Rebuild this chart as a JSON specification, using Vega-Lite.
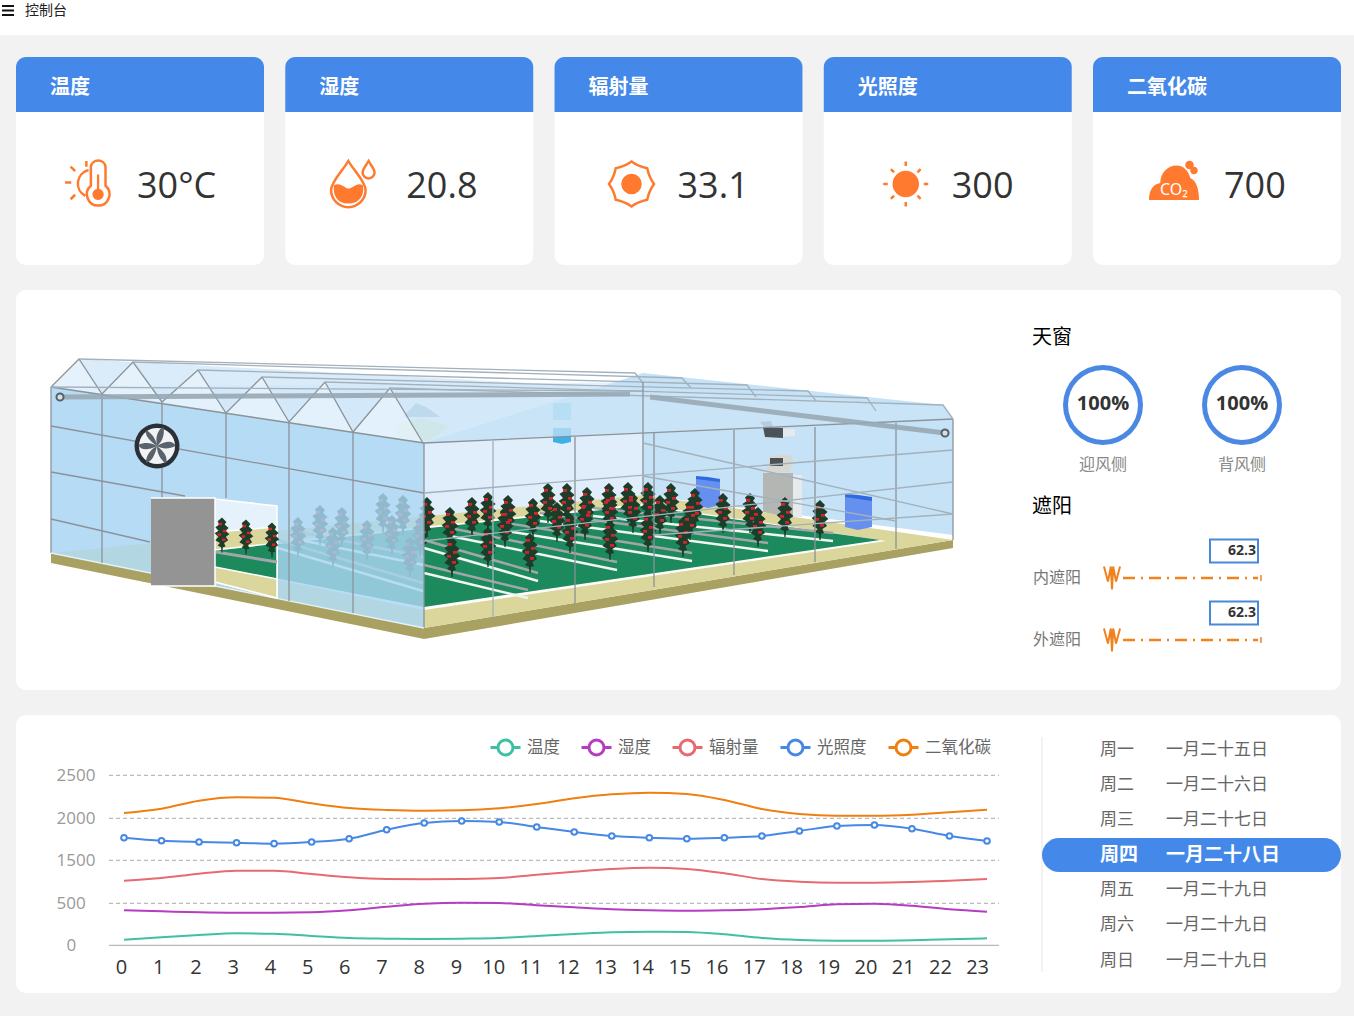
{
"$schema":"https://vega.github.io/schema/vega-lite/v6.json",
"background":"#f2f2f2",
"padding":{"left":-1,"top":-1,"right":0,"bottom":23},
"config":{"view":{"stroke":null},"axis":{"disable":true},"text":{"font":"Noto Sans CJK SC"}},
"spacing":21,
"vconcat":[
{"width":1354,"height":36,"view":{"fill":"white","stroke":null},"data":{"values":[{"label":"控制台"}]},"layer":[
 {"mark":{"type":"point","shape":"M-1,-.75H1M-1,0H1M-1,.75H1","size":144,"filled":false,"stroke":"#111","strokeWidth":2,"strokeJoin":"round","opacity":1},"encoding":{"x":{"datum":8,"scale":{"domain":[0,1354],"range":[0,1354],"nice":false,"zero":false}},"y":{"datum":11.5,"scale":{"domain":[0,36],"range":[0,36],"nice":false,"zero":false}}}},
 {"mark":{"type":"text","align":"left","fontSize":14,"color":"#222"},"encoding":{"x":{"datum":25},"y":{"datum":12},"text":{"field":"label"}}}
]},
{"hconcat":[
 {"width":1,"height":1,"data":{"values":[{}]},"mark":{"type":"rule","opacity":0},"encoding":{}},
 {"spacing":25,"vconcat":[
  {"spacing":21.25,"hconcat":[
   {"width":248,"height":208,"view":{"fill":"white","cornerRadius":10,"stroke":null},"data":{"values":[{"name":"温度","value":"30°C"}]},"layer":[
    {"mark":{"type":"rect","color":"#4489ea","cornerRadiusTopLeft":10,"cornerRadiusTopRight":10},"encoding":{"x":{"datum":0,"scale":{"domain":[0,248],"range":[0,248],"nice":false,"zero":false}},"x2":{"datum":248},"y":{"datum":0,"scale":{"domain":[0,208],"range":[0,208],"nice":false,"zero":false}},"y2":{"datum":55}}},
    {"mark":{"type":"text","align":"left","fontSize":20,"fontWeight":"bold","color":"white"},"encoding":{"x":{"datum":34},"y":{"datum":31},"text":{"field":"name"}}},
    {"mark":{"type":"point","shape":"M.15,.1V-.75A.33,.33 0 0 1 .8,-.75V.1A.5,.5 0 1 1 .15,.1ZM.05,-.6A.62,.62 0 0 0 -.1,.55M-1,-.05H-.72M-.75,-.75L-.55,-.55M-.75,.7L-.55,.5M-.05,-1V-.75","size":2025,"filled":false,"stroke":"#ff7a2f","strokeWidth":2.5,"opacity":1},"encoding":{"x":{"datum":71.5},"y":{"datum":126.5}}},
    {"mark":{"type":"point","shape":"M.72,.48A.25,.25 0 1 1 .22,.48A.25,.25 0 1 1 .72,.48ZM.42,-.4H.52V.3H.42Z","size":2025,"filled":true,"color":"#ff7a2f","opacity":1},"encoding":{"x":{"datum":71.5},"y":{"datum":126.5}}},
    {"mark":{"type":"text","align":"left","fontSize":36,"font":"Open Sans","color":"#333"},"encoding":{"x":{"datum":121},"y":{"datum":130},"text":{"field":"value"}}}
   ]},
   {"width":248,"height":208,"view":{"fill":"white","cornerRadius":10,"stroke":null},"data":{"values":[{"name":"湿度","value":"20.8"}]},"layer":[
    {"mark":{"type":"rect","color":"#4489ea","cornerRadiusTopLeft":10,"cornerRadiusTopRight":10},"encoding":{"x":{"datum":0,"scale":{"domain":[0,248],"range":[0,248],"nice":false,"zero":false}},"x2":{"datum":248},"y":{"datum":0,"scale":{"domain":[0,208],"range":[0,208],"nice":false,"zero":false}},"y2":{"datum":55}}},
    {"mark":{"type":"text","align":"left","fontSize":20,"fontWeight":"bold","color":"white"},"encoding":{"x":{"datum":34},"y":{"datum":31},"text":{"field":"name"}}},
    {"mark":{"type":"point","shape":"M-.17,-1C-.4,-.6 -.92,-.1 -.92,.26A.75,.75 0 0 0 .58,.26C.58,-.1 .06,-.6 -.17,-1ZM.71,-1C.6,-.8 .45,-.65 .45,-.5A.26,.26 0 0 0 .97,-.5C.97,-.65 .82,-.8 .71,-1Z","size":2116,"filled":false,"stroke":"#ff7a2f","strokeWidth":2.5,"opacity":1},"encoding":{"x":{"datum":67},"y":{"datum":127}}},
    {"mark":{"type":"point","shape":"M-.8,.05C-.5,-.1 -.3,.2 -.17,.2C0,.2 .2,-.1 .46,.05C.55,.5 .3,.85 -.17,.85C-.65,.85 -.85,.5 -.8,.05Z","size":2116,"filled":true,"color":"#ff7a2f","opacity":1},"encoding":{"x":{"datum":67},"y":{"datum":127}}},
    {"mark":{"type":"text","align":"left","fontSize":36,"font":"Open Sans","color":"#333"},"encoding":{"x":{"datum":121},"y":{"datum":130},"text":{"field":"value"}}}
   ]},
   {"width":248,"height":208,"view":{"fill":"white","cornerRadius":10,"stroke":null},"data":{"values":[{"name":"辐射量","value":"33.1"}]},"layer":[
    {"mark":{"type":"rect","color":"#4489ea","cornerRadiusTopLeft":10,"cornerRadiusTopRight":10},"encoding":{"x":{"datum":0,"scale":{"domain":[0,248],"range":[0,248],"nice":false,"zero":false}},"x2":{"datum":248},"y":{"datum":0,"scale":{"domain":[0,208],"range":[0,208],"nice":false,"zero":false}},"y2":{"datum":55}}},
    {"mark":{"type":"text","align":"left","fontSize":20,"fontWeight":"bold","color":"white"},"encoding":{"x":{"datum":34},"y":{"datum":31},"text":{"field":"name"}}},
    {"mark":{"type":"point","shape":"M0,-1Q.3,-.78 .7,-.7Q.78,-.3 1,0Q.78,.3 .7,.7Q.3,.78 0,1Q-.3,.78 -.7,.7Q-.78,.3 -1,0Q-.78,-.3 -.7,-.7Q-.3,-.78 0,-1Z","size":2025,"filled":false,"stroke":"#ff7a2f","strokeWidth":2.5,"opacity":1},"encoding":{"x":{"datum":77},"y":{"datum":127}}},
    {"mark":{"type":"point","shape":"circle","size":420,"filled":true,"color":"#ff7a2f","opacity":1},"encoding":{"x":{"datum":77},"y":{"datum":127}}},
    {"mark":{"type":"text","align":"left","fontSize":36,"font":"Open Sans","color":"#333"},"encoding":{"x":{"datum":123},"y":{"datum":130},"text":{"field":"value"}}}
   ]},
   {"width":248,"height":208,"view":{"fill":"white","cornerRadius":10,"stroke":null},"data":{"values":[{"name":"光照度","value":"300"}]},"layer":[
    {"mark":{"type":"rect","color":"#4489ea","cornerRadiusTopLeft":10,"cornerRadiusTopRight":10},"encoding":{"x":{"datum":0,"scale":{"domain":[0,248],"range":[0,248],"nice":false,"zero":false}},"x2":{"datum":248},"y":{"datum":0,"scale":{"domain":[0,208],"range":[0,208],"nice":false,"zero":false}},"y2":{"datum":55}}},
    {"mark":{"type":"text","align":"left","fontSize":20,"fontWeight":"bold","color":"white"},"encoding":{"x":{"datum":34},"y":{"datum":31},"text":{"field":"name"}}},
    {"mark":{"type":"point","shape":"M0,-1V-.8M0,1V.8M-1,0H-.8M1,0H.8M.66,-.66L.52,-.52M.66,.66L.52,.52M-.66,-.66L-.52,-.52M-.66,.66L-.52,.52","size":2025,"filled":false,"stroke":"#ff7a2f","strokeWidth":2.5,"opacity":1},"encoding":{"x":{"datum":82},"y":{"datum":127}}},
    {"mark":{"type":"point","shape":"circle","size":700,"filled":true,"color":"#ff7a2f","opacity":1},"encoding":{"x":{"datum":82},"y":{"datum":127}}},
    {"mark":{"type":"text","align":"left","fontSize":36,"font":"Open Sans","color":"#333"},"encoding":{"x":{"datum":128},"y":{"datum":130},"text":{"field":"value"}}}
   ]},
   {"width":248,"height":208,"view":{"fill":"white","cornerRadius":10,"stroke":null},"data":{"values":[{"name":"二氧化碳","value":"700","icon":"CO₂"}]},"layer":[
    {"mark":{"type":"rect","color":"#4489ea","cornerRadiusTopLeft":10,"cornerRadiusTopRight":10},"encoding":{"x":{"datum":0,"scale":{"domain":[0,248],"range":[0,248],"nice":false,"zero":false}},"x2":{"datum":248},"y":{"datum":0,"scale":{"domain":[0,208],"range":[0,208],"nice":false,"zero":false}},"y2":{"datum":55}}},
    {"mark":{"type":"text","align":"left","fontSize":20,"fontWeight":"bold","color":"white"},"encoding":{"x":{"datum":34},"y":{"datum":31},"text":{"field":"name"}}},
    {"mark":{"type":"point","shape":"M-1,.68C-1,.3 -.85,.05 -.55,0C-.55,-.4 -.25,-.7 .1,-.7C.4,-.7 .6,-.45 .65,-.2C.9,-.1 1,.25 1,.68ZM.45,-.72A.17,.17 0 1 1 .79,-.72A.17,.17 0 1 1 .45,-.72ZM.65,-.5A.15,.15 0 1 1 .95,-.5A.15,.15 0 1 1 .65,-.5Z","size":2500,"filled":true,"color":"#ff7a2f","opacity":1},"encoding":{"x":{"datum":81},"y":{"datum":126}}},
    {"mark":{"type":"text","fontSize":16,"font":"Noto Sans","color":"white"},"encoding":{"x":{"datum":81},"y":{"datum":133},"text":{"field":"icon"}}},
    {"mark":{"type":"text","align":"left","fontSize":36,"font":"Open Sans","color":"#333"},"encoding":{"x":{"datum":131},"y":{"datum":130},"text":{"field":"value"}}}
   ]}
  ]},
  {"width":1325,"height":400,"view":{"fill":"white","cornerRadius":10,"stroke":null},
   "resolve":{"scale":{"x":"independent","y":"independent"}},
   "layer":[
   {"layer":[
    {"data":{"values":[
      {"shape":"behind","part":"behind","x":[51,643,643,51],"y":[387,382,495,553]},
      {"shape":"backl","part":"backl","x":[424,643,643,424],"y":[443,433,495,520]},
      {"shape":"backr","part":"backr","x":[643,953,953,643],"y":[433,419,535,495]},
      {"shape":"roofr","part":"backr","x":[424,643,943,953],"y":[443,373,405,419]},
      {"shape":"base","part":"base","x":[51,51,424,953,953,424],"y":[553,563,639,548,540,628]},
      {"shape":"floor","part":"floor","x":[51,643,953,424],"y":[553,495,540,628]},
      {"shape":"bedw","part":"bedw","x":[158,640,886,424],"y":[555,504,541,610]},
      {"shape":"bed","part":"bed","x":[162,640,880,424],"y":[556,506,540,607]},
      {"shape":"glow","part":"glow","x":[393,420,450,430,400],"y":[426,418,426,440,438]},
      {"shape":"lamp","part":"lamp","x":[402,412,416,428,440],"y":[417,408,403,408,417]},
      {"shape":"lighta","part":"lighta","x":[553,553,571,571],"y":[403,420,420,403]},
      {"shape":"lightb","part":"lightb","x":[553,553,562,571,571],"y":[428,442,444,442,428]},
      {"shape":"bucket1","part":"bucket","x":[696,696,708,720,720],"y":[477,505,508,505,480]},
      {"shape":"top1","part":"buckett","x":[696,708,720,720,696],"y":[476,477,479,482,479]},
      {"shape":"bucket2","part":"bucket","x":[845,845,858,872,872],"y":[495,527,530,527,498]},
      {"shape":"top2","part":"buckett","x":[845,858,872,872,845],"y":[494,495,497,501,497]},
      {"shape":"side","part":"cwhite","x":[793,802,802,793],"y":[475,475,517,517]},
      {"shape":"body","part":"cbody","x":[763,793,793,763],"y":[473,473,518,512]},
      {"shape":"head","part":"chead","x":[767,770,790,793,790,767],"y":[468,456,455,460,472,473]},
      {"shape":"screen","part":"cdark","x":[770,783,783,770],"y":[458,458,466,466]},
      {"shape":"cam","part":"cdark","x":[763,783,783,765],"y":[427,428,438,437]},
      {"shape":"camw","part":"cwhite","x":[783,795,795,783],"y":[429,429,436,437]},
      {"shape":"camb","part":"cbrack","x":[760,771,773,764],"y":[422,421,427,427]}
     ]},
     "transform":[{"flatten":["x","y"]},{"window":[{"op":"row_number","as":"i"}],"groupby":["shape"]}],
     "mark":{"type":"line","strokeWidth":0},
     "encoding":{
      "x":{"field":"x","type":"quantitative","scale":{"domain":[16,1341],"range":[0,1325],"nice":false,"zero":false}},
      "y":{"field":"y","type":"quantitative","scale":{"domain":[290,690],"range":[0,400],"nice":false,"zero":false}},
      "detail":{"field":"shape"},
      "order":{"field":"i","type":"quantitative"},
      "fill":{"field":"part","type":"nominal","legend":null,"scale":{
       "domain":["behind","backl","backr","base","floor","bedw","bed","glow","lamp","lighta","lightb","bucket","buckett","cwhite","cbody","chead","cdark","cbrack","wall","roof","gable","sky","door"],
       "range":["#e6f2fb","#dfeefa","#c5e2f7","#a9a162","#dbd69b","#ffffff","#1c8a5c","#dceec6","#9dbcd2","#84d2f5","#3fb0e6","#6690f0","#2f6be0","#e6eaec","#b4b6b4","#d8d8d0","#4c5358","#7c98a6","#a9d5f3","#cbe4f6","#edf7fd","#e6f2fb","#949494"]}}
     }},
    {"data":{"values":[
      {"shape":"w1","part":"rail","x":[593,833],"y":[516,541]},
      {"shape":"w2","part":"rail","x":[540,768],"y":[521,551]},
      {"shape":"w3","part":"rail","x":[500,692],"y":[530,561]},
      {"shape":"w4","part":"rail","x":[450,617],"y":[536,570]},
      {"shape":"w5","part":"rail","x":[424,538],"y":[548,581]},
      {"shape":"w6","part":"rail","x":[424,528],"y":[573,598]},
      {"shape":"w7","part":"rail","x":[278,423],"y":[548,591]},
      {"shape":"w8","part":"rail","x":[290,424],"y":[538,565]},
      {"shape":"g1","part":"bench","x":[593,833],"y":[508,533]},
      {"shape":"g2","part":"bench","x":[540,768],"y":[513,543]},
      {"shape":"g3","part":"bench","x":[500,692],"y":[522,553]},
      {"shape":"g4","part":"bench","x":[450,617],"y":[528,562]},
      {"shape":"g5","part":"bench","x":[424,538],"y":[540,573]},
      {"shape":"g6","part":"bench","x":[424,528],"y":[565,590]},
      {"shape":"g7","part":"bench","x":[278,423],"y":[540,583]},
      {"shape":"g8","part":"bench","x":[290,424],"y":[530,557]}
     ]},
     "transform":[{"flatten":["x","y"]}],
     "mark":{"type":"line","strokeWidth":2.5},
     "encoding":{
      "x":{"field":"x","type":"quantitative"},
      "y":{"field":"y","type":"quantitative"},
      "detail":{"field":"shape"},
      "color":{"field":"part","type":"nominal","legend":null,"scale":{"domain":["rail","bench","strong","light","edge"],"range":["#f2f4f4","#a2a6a9","#8b9298","#a3b1bc","#e4f0f8"]}}
     }},
    {"data":{"name":"plants","values":[
      {"x":548,"y":503},{"x":567,"y":503},{"x":587,"y":507},{"x":609,"y":503},{"x":628,"y":502},{"x":648,"y":502},{"x":671,"y":503},{"x":695,"y":508},{"x":723,"y":513},{"x":750,"y":513},{"x":785,"y":517},{"x":820,"y":520},{"x":633,"y":513},{"x":660,"y":515},{"x":690,"y":520},{"x":758,"y":527},{"x":610,"y":513},{"x":585,"y":520},{"x":557,"y":522},{"x":533,"y":518},{"x":508,"y":515},{"x":570,"y":533},{"x":610,"y":540},{"x":648,"y":532},{"x":683,"y":537},{"x":530,"y":553},{"x":427,"y":517},{"x":450,"y":527},{"x":472,"y":517},{"x":488,"y":512},{"x":505,"y":527},{"x":452,"y":557},{"x":488,"y":547},{"x":298,"y":537},{"x":320,"y":525},{"x":342,"y":527},{"x":383,"y":513},{"x":403,"y":515},{"x":367,"y":540},{"x":392,"y":535},{"x":333,"y":547},{"x":410,"y":557},{"x":420,"y":537}
     ]},
     "mark":{"type":"point","shape":"M0,-1L.25,-.75L.15,-.6L.38,-.4L.2,-.25L.42,-.05L.22,.1L.35,.3L.12,.45L.2,.65L.05,.7L.03,1L-.03,1L-.05,.7L-.25,.6L-.12,.45L-.38,.3L-.2,.1L-.42,-.1L-.2,-.25L-.38,-.45L-.15,-.6L-.25,-.78Z","size":1600,"filled":true,"color":"#1b3d2a","opacity":1},
     "encoding":{"x":{"field":"x","type":"quantitative"},"y":{"field":"y","type":"quantitative"}}},
    {"data":{"name":"plants"},
     "mark":{"type":"point","shape":"M-.2,-.7h.2v.14h-.2zM.05,-.3h.2v.14h-.2zM-.25,-.1h.2v.14h-.2zM0,.2h.2v.14h-.2z","size":1600,"filled":true,"color":"#d1242c","opacity":1},
     "encoding":{"x":{"field":"x","type":"quantitative"},"y":{"field":"y","type":"quantitative"}}},
    {"data":{"values":[
      {"shape":"wall","part":"wall","x":[51,424,424,51],"y":[387,443,628,553]},
      {"shape":"roof","part":"roof","x":[51,79,943,953,424],"y":[387,359,405,419,443]},
      {"shape":"t1","part":"gable","x":[51,79,102],"y":[387,359,394]},
      {"shape":"t2","part":"gable","x":[102,133,162],"y":[394,362,402]},
      {"shape":"t3","part":"gable","x":[162,198,226],"y":[402,370,413]},
      {"shape":"t4","part":"gable","x":[226,262,289],"y":[413,377,422]},
      {"shape":"t5","part":"gable","x":[289,325,353],"y":[422,382,432]},
      {"shape":"t6","part":"gable","x":[353,390,423],"y":[432,388,443]}
     ]},
     "transform":[{"flatten":["x","y"]},{"window":[{"op":"row_number","as":"i"}],"groupby":["shape"]}],
     "mark":{"type":"line","strokeWidth":0},
     "encoding":{
      "x":{"field":"x","type":"quantitative"},
      "y":{"field":"y","type":"quantitative"},
      "detail":{"field":"shape"},
      "order":{"field":"i","type":"quantitative"},
      "fill":{"field":"part","type":"nominal","legend":null},
      "opacity":{"field":"part","type":"nominal","legend":null,"scale":{"domain":["wall","roof","gable"],"range":[0.82,0.6,0.75]}}
     }},
    {"data":{"values":[
      {"shape":"f1","part":"strong","x":[51,424,953],"y":[387,443,419]},
      {"shape":"f2","part":"strong","x":[51,51],"y":[387,553]},
      {"shape":"f3","part":"strong","x":[424,424],"y":[443,628]},
      {"shape":"f4","part":"strong","x":[953,953],"y":[419,540]},
      {"shape":"f5","part":"strong","x":[51,79,102,133,162,198,226,262,289,325,353,390,423],"y":[387,359,394,362,402,370,413,377,422,382,432,388,443]},
      {"shape":"f6","part":"edge","x":[51,424],"y":[553,628]},
      {"shape":"v1","part":"strong","x":[102,102],"y":[394,563]},
      {"shape":"v2","part":"strong","x":[162,162],"y":[402,498]},
      {"shape":"v3","part":"strong","x":[226,226],"y":[413,498]},
      {"shape":"v4","part":"strong","x":[289,289],"y":[422,601]},
      {"shape":"v5","part":"strong","x":[353,353],"y":[432,613]},
      {"shape":"h1","part":"strong","x":[51,424],"y":[426,493]},
      {"shape":"h2","part":"strong","x":[51,185],"y":[472,496]},
      {"shape":"h3","part":"strong","x":[51,150],"y":[519,542]},
      {"shape":"r1","part":"light","x":[79,635,643],"y":[359,373,383]},
      {"shape":"r2","part":"light","x":[133,682,691],"y":[362,378,388]},
      {"shape":"r3","part":"light","x":[198,747,756],"y":[370,385,397]},
      {"shape":"r4","part":"light","x":[262,808,816],"y":[377,391,401]},
      {"shape":"r5","part":"light","x":[325,867,876],"y":[382,398,411]},
      {"shape":"r6","part":"light","x":[390,943,953],"y":[388,405,419]},
      {"shape":"b1","part":"light","x":[51,643],"y":[387,391]},
      {"shape":"b2","part":"strong","x":[643,643],"y":[382,495]},
      {"shape":"b3","part":"light","x":[493,493],"y":[441,617]},
      {"shape":"b4","part":"strong","x":[575,575],"y":[437,603]},
      {"shape":"b5","part":"strong","x":[654,654],"y":[433,587]},
      {"shape":"b6","part":"strong","x":[734,734],"y":[430,575]},
      {"shape":"b7","part":"strong","x":[815,815],"y":[427,562]},
      {"shape":"b8","part":"strong","x":[896,896],"y":[423,549]},
      {"shape":"c1","part":"light","x":[424,953],"y":[493,450]},
      {"shape":"c2","part":"light","x":[424,953],"y":[541,482]},
      {"shape":"c3","part":"light","x":[643,953],"y":[443,514]},
      {"shape":"c4","part":"light","x":[643,896],"y":[476,521]},
      {"shape":"c5","part":"light","x":[654,953],"y":[535,514]}
     ]},
     "transform":[{"flatten":["x","y"]}],
     "mark":{"type":"line","strokeWidth":1.3},
     "encoding":{
      "x":{"field":"x","type":"quantitative"},
      "y":{"field":"y","type":"quantitative"},
      "detail":{"field":"shape"},
      "color":{"field":"part","type":"nominal","legend":null}
     }},
    {"data":{"values":[
      {"shape":"p1","part":"pipe","x":[60,630],"y":[397,394]},
      {"shape":"p2","part":"pipe","x":[650,945],"y":[397,433]}
     ]},
     "transform":[{"flatten":["x","y"]}],
     "mark":{"type":"line","strokeWidth":5,"color":"#98a8b4","opacity":0.9},
     "encoding":{"x":{"field":"x","type":"quantitative"},"y":{"field":"y","type":"quantitative"},"detail":{"field":"shape"}}},
    {"data":{"values":[{"x":60,"y":397},{"x":945,"y":433}]},
     "mark":{"type":"point","shape":"circle","size":50,"filled":true,"fill":"#d8dee2","stroke":"#55606a","strokeWidth":2,"opacity":1},
     "encoding":{"x":{"field":"x","type":"quantitative"},"y":{"field":"y","type":"quantitative"}}},
    {"data":{"values":[
      {"shape":"d1","part":"sky","x":[215,277,277,215],"y":[499,506,598,582]},
      {"shape":"d2","part":"floor","x":[215,277,277,215],"y":[532,527,598,582]},
      {"shape":"d3","part":"bed","x":[215,277,277,215],"y":[550,543,579,567]},
      {"shape":"d4","part":"door","x":[151,215,215,151],"y":[498,498,586,586]}
     ]},
     "transform":[{"flatten":["x","y"]},{"window":[{"op":"row_number","as":"i"}],"groupby":["shape"]}],
     "mark":{"type":"line","stroke":"#ffffff","strokeWidth":1.5},
     "encoding":{
      "x":{"field":"x","type":"quantitative"},
      "y":{"field":"y","type":"quantitative"},
      "detail":{"field":"shape"},
      "order":{"field":"i","type":"quantitative"},
      "fill":{"field":"part","type":"nominal","legend":null}
     }},
    {"data":{"values":[{"x":[216,277],"y":[552,562]}]},
     "transform":[{"flatten":["x","y"]}],
     "mark":{"type":"line","strokeWidth":3,"color":"#a2a6a9"},
     "encoding":{"x":{"field":"x","type":"quantitative"},"y":{"field":"y","type":"quantitative"}}},
    {"data":{"name":"doorplants","values":[{"x":222,"y":535},{"x":246,"y":537},{"x":272,"y":540}]},
     "mark":{"type":"point","shape":"M0,-1L.25,-.75L.15,-.6L.38,-.4L.2,-.25L.42,-.05L.22,.1L.35,.3L.12,.45L.2,.65L.05,.7L.03,1L-.03,1L-.05,.7L-.25,.6L-.12,.45L-.38,.3L-.2,.1L-.42,-.1L-.2,-.25L-.38,-.45L-.15,-.6L-.25,-.78Z","size":1225,"filled":true,"color":"#1b3d2a","opacity":1},
     "encoding":{"x":{"field":"x","type":"quantitative"},"y":{"field":"y","type":"quantitative"}}},
    {"data":{"name":"doorplants"},
     "mark":{"type":"point","shape":"M-.2,-.7h.2v.14h-.2zM.05,-.3h.2v.14h-.2zM-.25,-.1h.2v.14h-.2zM0,.2h.2v.14h-.2z","size":1225,"filled":true,"color":"#d1242c","opacity":1},
     "encoding":{"x":{"field":"x","type":"quantitative"},"y":{"field":"y","type":"quantitative"}}},
    {"data":{"values":[{"x":157,"y":446}]},
     "mark":{"type":"point","shape":"circle","size":2025,"filled":true,"color":"#2b3036","opacity":1},
     "encoding":{"x":{"field":"x","type":"quantitative"},"y":{"field":"y","type":"quantitative"}}},
    {"data":{"values":[{"x":157,"y":446}]},
     "mark":{"type":"point","shape":"circle","size":1300,"filled":true,"color":"#f1f3f4","opacity":1},
     "encoding":{"x":{"field":"x","type":"quantitative"},"y":{"field":"y","type":"quantitative"}}},
    {"data":{"values":[{"x":157,"y":446}]},
     "mark":{"type":"point","shape":"M0,0C-.1,-.5 .1,-.8 .3,-.85C.35,-.5 .25,-.2 0,0ZM0,0C.5,-.3 .75,-.2 .85,0C.55,.15 .25,.15 0,0ZM0,0C.4,.3 .5,.6 .4,.8C.15,.6 0,.35 0,0ZM0,0C-.1,.5 -.3,.75 -.5,.75C-.5,.45 -.3,.15 0,0ZM0,0C-.5,.25 -.75,.15 -.85,-.05C-.55,-.2 -.25,-.15 0,0ZM0,0C-.4,-.3 -.55,-.5 -.5,-.72C-.25,-.6 -.05,-.35 0,0Z","size":1936,"filled":true,"color":"#5a636b","opacity":1},
     "encoding":{"x":{"field":"x","type":"quantitative"},"y":{"field":"y","type":"quantitative"}}}
   ]},
   {"data":{"values":[{"title":"天窗"},{"title":"遮阳"}]},
    "mark":{"type":"text","align":"left","fontSize":20,"color":"#000"},
    "encoding":{
     "x":{"datum":1032,"scale":{"domain":[16,1341],"range":[0,1325],"nice":false,"zero":false}},
     "y":{"field":"title","type":"nominal","scale":{"type":"point","domain":["天窗","遮阳"],"range":[48,217],"padding":0}},
     "text":{"field":"title"}}},
   {"data":{"name":"vents","values":[{"side":"迎风侧","open":1},{"side":"背风侧","open":1}]},
    "layer":[
     {"mark":{"type":"arc","innerRadius":35,"outerRadius":40,"color":"#4a88e4"},
      "encoding":{
       "x":{"field":"side","type":"nominal","sort":null,"scale":{"type":"point","domain":["迎风侧","背风侧"],"range":[1087,1226],"padding":0}},
       "y":{"datum":115,"scale":{"domain":[0,400],"range":[0,400],"nice":false,"zero":false}},
       "theta":{"field":"open","type":"quantitative","stack":false,"scale":{"domain":[0,1],"range":[0,6.2832]}},
       "theta2":{"datum":0}}},
     {"mark":{"type":"text","fontSize":20,"font":"Open Sans","fontWeight":"bold","color":"#333"},
      "encoding":{"x":{"field":"side","type":"nominal"},"y":{"datum":114},"text":{"field":"open","type":"quantitative","format":".0%"}}},
     {"mark":{"type":"text","fontSize":16,"color":"#888"},
      "encoding":{"x":{"field":"side","type":"nominal"},"y":{"datum":175},"text":{"field":"side"}}}
    ]},
   {"data":{"values":[{"name":"内遮阳","value":62.3},{"name":"外遮阳","value":62.3}]},
    "layer":[
     {"mark":{"type":"text","align":"left","fontSize":16,"color":"#777"},
      "encoding":{
       "x":{"datum":1033,"scale":{"domain":[16,1341],"range":[0,1325],"nice":false,"zero":false}},
       "y":{"field":"name","type":"nominal","scale":{"type":"point","domain":["内遮阳","外遮阳"],"range":[288,350],"padding":0}},
       "text":{"field":"name"}}},
     {"mark":{"type":"point","shape":"M-.7,-1L-.35,.3L-.1,-1L0,1L.1,-1L.35,.3L.7,-1","size":529,"filled":false,"stroke":"#f0821e","strokeWidth":2,"opacity":1},
      "encoding":{"x":{"datum":1112},"y":{"field":"name","type":"nominal"}}},
     {"mark":{"type":"rule","stroke":"#f0821e","strokeWidth":2.5,"strokeDash":[12,6,2,6]},
      "encoding":{"x":{"datum":1123},"x2":{"datum":1258},"y":{"field":"name","type":"nominal"}}},
     {"mark":{"type":"point","shape":"M0,-1V1","size":36,"filled":false,"stroke":"#f5a25e","strokeWidth":2,"opacity":1},
      "encoding":{"x":{"datum":1261},"y":{"field":"name","type":"nominal"}}},
     {"mark":{"type":"rect","height":23,"yOffset":-27,"fill":"white","stroke":"#4a88d8","strokeWidth":2},
      "encoding":{"x":{"datum":1210},"x2":{"datum":1258},"y":{"field":"name","type":"nominal"}}},
     {"mark":{"type":"text","align":"right","fontSize":14,"font":"Open Sans","fontWeight":"bold","color":"#333","yOffset":-27},
      "encoding":{"x":{"datum":1256},"y":{"field":"name","type":"nominal"},"text":{"field":"value","type":"quantitative","format":".1f"}}}
    ]}
  ]},
  {"width":1325,"height":278,"view":{"fill":"white","cornerRadius":10,"stroke":null},
   "resolve":{"scale":{"x":"independent","y":"independent"}},
   "layer":[
   {"layer":[
    {"data":{"values":[{"tick":500},{"tick":1500},{"tick":2000},{"tick":2500}]},
     "mark":{"type":"rule","stroke":"#aaaaaa","strokeWidth":1,"strokeDash":[4,3]},
     "encoding":{
      "x":{"datum":-0.4,"axis":{"disable":false},"scale":{"domain":[0,23],"range":[108,971],"nice":false,"zero":false}},
      "x2":{"datum":23.32},
      "y":{"field":"tick","type":"quantitative","axis":{"disable":false},"scale":{"domain":[0,500,1500,2000,2500],"range":[230.3,188.3,145.3,103.3,60.3],"nice":false,"zero":false}}}},
    {"data":{"values":[{"tick":0}]},
     "mark":{"type":"rule","stroke":"#a8a8a8","strokeWidth":1},
     "encoding":{"x":{"datum":-0.4,"axis":{"disable":false}},"x2":{"datum":23.32},"y":{"field":"tick","type":"quantitative","axis":{"disable":false}}}},
    {"data":{"name":"hourly","values":[
{"series":"温度","hour":0,"value":67},{"series":"温度","hour":1,"value":95},{"series":"温度","hour":2,"value":123},{"series":"温度","hour":3,"value":143},{"series":"温度","hour":4,"value":138},{"series":"温度","hour":5,"value":111},{"series":"温度","hour":6,"value":87},{"series":"温度","hour":7,"value":79},{"series":"温度","hour":8,"value":75},{"series":"温度","hour":9,"value":79},{"series":"温度","hour":10,"value":87},{"series":"温度","hour":11,"value":111},{"series":"温度","hour":12,"value":134},{"series":"温度","hour":13,"value":155},{"series":"温度","hour":14,"value":162},{"series":"温度","hour":15,"value":158},{"series":"温度","hour":16,"value":131},{"series":"温度","hour":17,"value":87},{"series":"温度","hour":18,"value":63},{"series":"温度","hour":19,"value":55},{"series":"温度","hour":20,"value":55},{"series":"温度","hour":21,"value":60},{"series":"温度","hour":22,"value":71},{"series":"温度","hour":23,"value":83},
{"series":"湿度","hour":0,"value":417},{"series":"湿度","hour":1,"value":405},{"series":"湿度","hour":2,"value":393},{"series":"湿度","hour":3,"value":388},{"series":"湿度","hour":4,"value":388},{"series":"湿度","hour":5,"value":393},{"series":"湿度","hour":6,"value":417},{"series":"湿度","hour":7,"value":459},{"series":"湿度","hour":8,"value":495},{"series":"湿度","hour":9,"value":514},{"series":"湿度","hour":10,"value":507},{"series":"湿度","hour":11,"value":476},{"series":"湿度","hour":12,"value":452},{"series":"湿度","hour":13,"value":428},{"series":"湿度","hour":14,"value":417},{"series":"湿度","hour":15,"value":412},{"series":"湿度","hour":16,"value":417},{"series":"湿度","hour":17,"value":428},{"series":"湿度","hour":18,"value":456},{"series":"湿度","hour":19,"value":488},{"series":"湿度","hour":20,"value":495},{"series":"湿度","hour":21,"value":471},{"series":"湿度","hour":22,"value":428},{"series":"湿度","hour":23,"value":400},
{"series":"辐射量","hour":0,"value":1026},{"series":"辐射量","hour":1,"value":1088},{"series":"辐射量","hour":2,"value":1188},{"series":"辐射量","hour":3,"value":1258},{"series":"辐射量","hour":4,"value":1258},{"series":"辐射量","hour":5,"value":1182},{"series":"辐射量","hour":6,"value":1105},{"series":"辐射量","hour":7,"value":1065},{"series":"辐射量","hour":8,"value":1058},{"series":"辐射量","hour":9,"value":1065},{"series":"辐射量","hour":10,"value":1088},{"series":"辐射量","hour":11,"value":1165},{"series":"辐射量","hour":12,"value":1235},{"series":"辐射量","hour":13,"value":1298},{"series":"辐射量","hour":14,"value":1328},{"series":"辐射量","hour":15,"value":1298},{"series":"辐射量","hour":16,"value":1198},{"series":"辐射量","hour":17,"value":1065},{"series":"辐射量","hour":18,"value":1002},{"series":"辐射量","hour":19,"value":979},{"series":"辐射量","hour":20,"value":979},{"series":"辐射量","hour":21,"value":995},{"series":"辐射量","hour":22,"value":1026},{"series":"辐射量","hour":23,"value":1065},
{"series":"光照度","hour":0,"value":1769},{"series":"光照度","hour":1,"value":1733},{"series":"光照度","hour":2,"value":1718},{"series":"光照度","hour":3,"value":1709},{"series":"光照度","hour":4,"value":1698},{"series":"光照度","hour":5,"value":1718},{"series":"光照度","hour":6,"value":1757},{"series":"光照度","hour":7,"value":1864},{"series":"光照度","hour":8,"value":1944},{"series":"光照度","hour":9,"value":1968},{"series":"光照度","hour":10,"value":1956},{"series":"光照度","hour":11,"value":1896},{"series":"光照度","hour":12,"value":1837},{"series":"光照度","hour":13,"value":1789},{"series":"光照度","hour":14,"value":1769},{"series":"光照度","hour":15,"value":1757},{"series":"光照度","hour":16,"value":1769},{"series":"光照度","hour":17,"value":1789},{"series":"光照度","hour":18,"value":1849},{"series":"光照度","hour":19,"value":1908},{"series":"光照度","hour":20,"value":1920},{"series":"光照度","hour":21,"value":1876},{"series":"光照度","hour":22,"value":1789},{"series":"光照度","hour":23,"value":1730},
{"series":"二氧化碳","hour":0,"value":2062},{"series":"二氧化碳","hour":1,"value":2112},{"series":"二氧化碳","hour":2,"value":2205},{"series":"二氧化碳","hour":3,"value":2244},{"series":"二氧化碳","hour":4,"value":2240},{"series":"二氧化碳","hour":5,"value":2174},{"series":"二氧化碳","hour":6,"value":2120},{"series":"二氧化碳","hour":7,"value":2097},{"series":"二氧化碳","hour":8,"value":2088},{"series":"二氧化碳","hour":9,"value":2093},{"series":"二氧化碳","hour":10,"value":2116},{"series":"二氧化碳","hour":11,"value":2166},{"series":"二氧化碳","hour":12,"value":2233},{"series":"二氧化碳","hour":13,"value":2279},{"series":"二氧化碳","hour":14,"value":2298},{"series":"二氧化碳","hour":15,"value":2283},{"series":"二氧化碳","hour":16,"value":2213},{"series":"二氧化碳","hour":17,"value":2108},{"series":"二氧化碳","hour":18,"value":2050},{"series":"二氧化碳","hour":19,"value":2030},{"series":"二氧化碳","hour":20,"value":2030},{"series":"二氧化碳","hour":21,"value":2042},{"series":"二氧化碳","hour":22,"value":2070},{"series":"二氧化碳","hour":23,"value":2100}
     ]},
     "mark":{"type":"line","interpolate":"monotone","strokeWidth":2},
     "encoding":{
      "x":{"field":"hour","type":"quantitative","axis":{"disable":false,"values":[0,1,2,3,4,5,6,7,8,9,10,11,12,13,14,15,16,17,18,19,20,21,22,23],"title":null,"orient":"bottom","offset":-48,"domain":false,"ticks":false,"grid":false,"labelPadding":12,"labelFont":"Open Sans","labelFontSize":20,"labelColor":"#333","labelOverlap":false,"labelBound":false,"labelFlush":false,"labelOffset":{"expr":"-3-0.3*datum.value"},"format":"d"}},
      "y":{"field":"value","type":"quantitative","axis":{"disable":false,"values":[0,500,1500,2000,2500],"title":null,"orient":"left","offset":-40,"domain":false,"ticks":false,"grid":false,"labelPadding":{"expr":"datum.value==0?-10:0"},"labelAlign":"left","labelFont":"Open Sans","labelFontSize":17,"labelColor":"#999","format":"d"}},
      "stroke":{"field":"series","type":"nominal","scale":{"domain":["温度","湿度","辐射量","光照度","二氧化碳"],"range":["#3fbfa3","#b63cc0","#e66b70","#4688e6","#f07f10"]},
       "legend":{"orient":"none","legendX":489,"legendY":732,"direction":"horizontal","title":null,"symbolType":"M-1,0H-.5M.5,0H1M.5,0A.5,.5 0 1 1 -.5,0A.5,.5 0 1 1 .5,0","symbolSize":900,"symbolStrokeWidth":3,"symbolFillColor":"white","labelFontSize":16.5,"labelFont":"Noto Sans CJK SC","labelColor":"#666","labelOffset":5,"columnPadding":15,"padding":0}}
     }},
    {"data":{"name":"hourly"},
     "transform":[{"filter":"datum.series === '光照度'"}],
     "mark":{"type":"point","filled":true,"fill":"white","stroke":"#4688e6","strokeWidth":2,"size":32,"opacity":1},
     "encoding":{"x":{"field":"hour","type":"quantitative","axis":{"disable":false}},"y":{"field":"value","type":"quantitative","axis":{"disable":false}}}}
   ]},
   {"data":{"values":[{"edge":737},{"edge":972}]},
    "transform":[{"aggregate":[{"op":"min","field":"edge","as":"top"},{"op":"max","field":"edge","as":"bottom"}]}],
    "mark":{"type":"rule","stroke":"#e6e6e6","strokeWidth":1},
    "encoding":{
     "x":{"datum":1042,"scale":{"domain":[16,1341],"range":[0,1325],"nice":false,"zero":false}},
     "y":{"field":"top","type":"quantitative","scale":{"domain":[715,993],"range":[0,278],"nice":false,"zero":false}},
     "y2":{"field":"bottom"}}},
   {"data":{"values":[
     {"day":"周一","date":"一月二十五日","today":false},
     {"day":"周二","date":"一月二十六日","today":false},
     {"day":"周三","date":"一月二十七日","today":false},
     {"day":"周四","date":"一月二十八日","today":true},
     {"day":"周五","date":"一月二十九日","today":false},
     {"day":"周六","date":"一月二十九日","today":false},
     {"day":"周日","date":"一月二十九日","today":false}
    ]},
    "layer":[
     {"transform":[{"filter":"datum.today"}],
      "mark":{"type":"rect","height":34,"cornerRadius":17,"color":"#4489ea"},
      "encoding":{
       "x":{"datum":1042,"scale":{"domain":[16,1341],"range":[0,1325],"nice":false,"zero":false}},
       "x2":{"datum":1341},
       "y":{"field":"day","type":"nominal","scale":{"type":"point","domain":["周一","周二","周三","周四","周五","周六","周日"],"range":[34.5,245.5],"padding":0}}}},
     {"transform":[{"filter":"!datum.today"}],
      "mark":{"type":"text","align":"left","fontSize":17,"color":"#666"},
      "encoding":{"x":{"datum":1100},"y":{"field":"day","type":"nominal"},"text":{"field":"day"}}},
     {"transform":[{"filter":"!datum.today"}],
      "mark":{"type":"text","align":"left","fontSize":17,"color":"#666"},
      "encoding":{"x":{"datum":1166},"y":{"field":"day","type":"nominal"},"text":{"field":"date"}}},
     {"transform":[{"filter":"datum.today"}],
      "mark":{"type":"text","align":"left","fontSize":19,"fontWeight":"bold","color":"white"},
      "encoding":{"x":{"datum":1100},"y":{"field":"day","type":"nominal"},"text":{"field":"day"}}},
     {"transform":[{"filter":"datum.today"}],
      "mark":{"type":"text","align":"left","fontSize":19,"fontWeight":"bold","color":"white"},
      "encoding":{"x":{"datum":1166},"y":{"field":"day","type":"nominal"},"text":{"field":"date"}}}
    ]}
  ]}
 ]}
],"spacing":15}
]
}
